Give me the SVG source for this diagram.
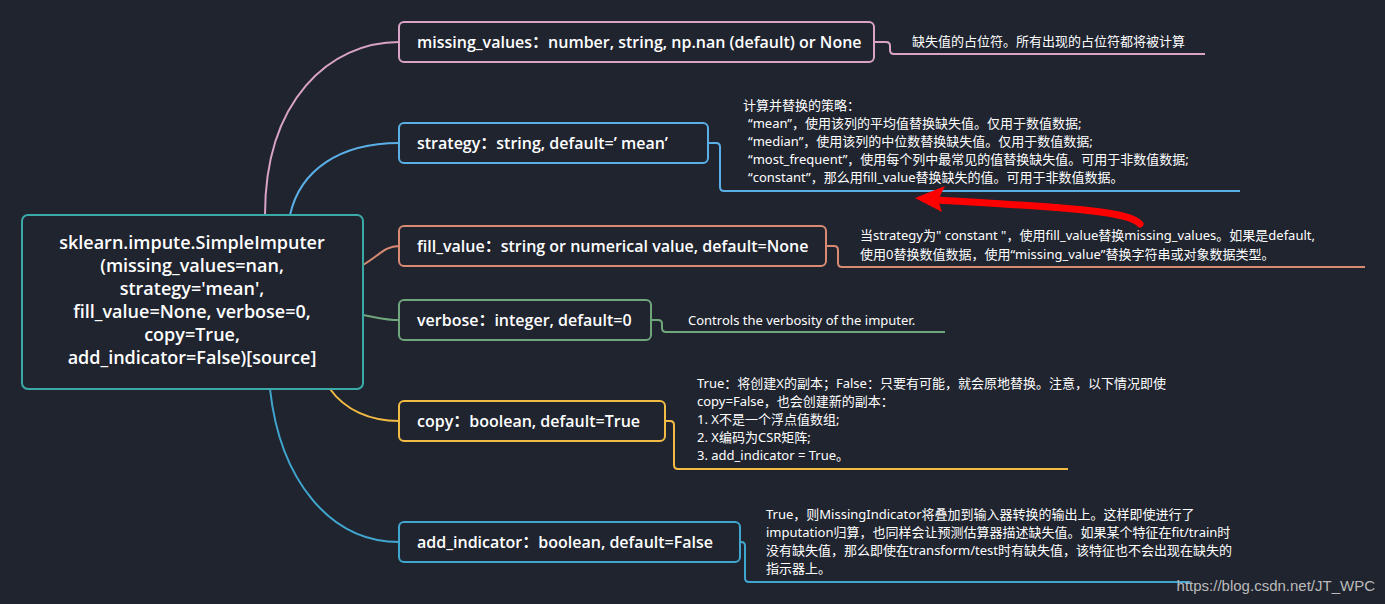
<svg xmlns="http://www.w3.org/2000/svg" width="1385" height="604" viewBox="0 0 1385 604">
<style>
.b{fill:#20242f;stroke-width:2}
.t{font-family:"Open Sans","Noto Sans CJK SC",sans-serif;fill:#fff;font-size:16px}
.n{font-family:"Noto Sans","Noto Sans CJK SC",sans-serif;fill:#fff;font-size:13px}
.c{fill:none;stroke-width:2}
</style>
<rect width="1385" height="604" fill="#20242f"/>
<g id="connectors">
<path class="c" stroke="#d9a3c6" d="M265,215 C265,100 330,42 399,42"/>
<path class="c" stroke="#5ab0e6" d="M290,215 C300,170 340,143 399,143"/>
<path class="c" stroke="#d98a73" d="M363,265 C380,255 385,246 399,246"/>
<path class="c" stroke="#6fa67c" d="M363,315 C380,318 385,320 399,320"/>
<path class="c" stroke="#f2bb44" d="M330,389 C345,410 370,421 399,421"/>
<path class="c" stroke="#40a6cf" d="M270,389 C280,480 330,542 399,542"/>
<path class="c" stroke="#d9a3c6" d="M874,42 H886 Q890,42 890,46 V50 Q890,54 894,54 H1205"/>
<path class="c" stroke="#5ab0e6" d="M708,143 H716 Q720,143 720,147 V187 Q720,191 724,191 H1240"/>
<path class="c" stroke="#d98a73" d="M826,246 H834 Q838,246 838,250 V263 Q838,267 842,267 H1365"/>
<path class="c" stroke="#6fa67c" d="M651,320 H658 Q662,320 662,324 V328 Q662,332 666,332 H945"/>
<path class="c" stroke="#f2bb44" d="M665,421 H670 Q674,421 674,425 V465 Q674,469 678,469 H1068"/>
<path class="c" stroke="#40a6cf" d="M740,542 H741 Q745,542 745,546 V578 Q745,582 749,582 H1190"/>
</g>
<g id="root"><rect class="b" stroke="#3aaaa8" x="22" y="215" width="341" height="174" rx="6"/>
<text class="t" style="font-size:18px;font-weight:600" text-anchor="middle"><tspan x="192" y="249">sklearn.impute.SimpleImputer</tspan><tspan x="192" y="272">(missing_values=nan,</tspan><tspan x="192" y="295">strategy='mean',</tspan><tspan x="192" y="318">fill_value=None, verbose=0,</tspan><tspan x="192" y="341">copy=True,</tspan><tspan x="192" y="364">add_indicator=False)[source]</tspan></text></g>
<g id="missing_values"><rect class="b" stroke="#d9a3c6" x="399" y="22" width="475" height="40" rx="5"/><text class="t" x="417" y="48" font-weight="600">missing_values：number, string, np.nan (default) or None</text>
<text class="n" x="912" y="46">缺失值的占位符。所有出现的占位符都将被计算</text></g>
<g id="strategy"><rect class="b" stroke="#5ab0e6" x="399" y="123" width="309" height="40" rx="5"/><text class="t" x="417" y="149" font-weight="600">strategy：string, default=’ mean’</text>
<text class="n"><tspan x="743" y="110">计算并替换的策略：</tspan><tspan x="748" y="128">“mean”，使用该列的平均值替换缺失值。仅用于数值数据;</tspan><tspan x="748" y="146">“median”，使用该列的中位数替换缺失值。仅用于数值数据;</tspan><tspan x="748" y="164">“most_frequent”，使用每个列中最常见的值替换缺失值。可用于非数值数据;</tspan><tspan x="748" y="182">“constant”，那么用fill_value替换缺失的值。可用于非数值数据。</tspan></text></g>
<g id="fill_value"><rect class="b" stroke="#d98a73" x="399" y="226" width="427" height="40" rx="5"/><text class="t" x="417" y="252" font-weight="600">fill_value：string or numerical value, default=None</text>
<text class="n"><tspan x="860" y="240">当strategy为" constant "，使用fill_value替换missing_values。如果是default,</tspan><tspan x="860" y="259">使用0替换数值数据，使用“missing_value”替换字符串或对象数据类型。</tspan></text></g>
<g id="verbose"><rect class="b" stroke="#6fa67c" x="399" y="300" width="252" height="40" rx="5"/><text class="t" x="417" y="326" font-weight="600">verbose：integer, default=0</text>
<text class="n" x="688" y="325">Controls the verbosity of the imputer.</text></g>
<g id="copy"><rect class="b" stroke="#f2bb44" x="399" y="401" width="266" height="40" rx="5"/><text class="t" x="417" y="427" font-weight="600">copy：boolean, default=True</text>
<text class="n"><tspan x="697" y="388">True：将创建X的副本；False：只要有可能，就会原地替换。注意，以下情况即使</tspan><tspan x="697" y="406">copy=False，也会创建新的副本：</tspan><tspan x="697" y="424">1. X不是一个浮点值数组;</tspan><tspan x="697" y="442">2. X编码为CSR矩阵;</tspan><tspan x="697" y="460">3. add_indicator = True。</tspan></text></g>
<g id="add_indicator"><rect class="b" stroke="#40a6cf" x="399" y="522" width="341" height="40" rx="5"/><text class="t" x="417" y="548" font-weight="600">add_indicator：boolean, default=False</text>
<text class="n"><tspan x="766" y="519">True，则MissingIndicator将叠加到输入器转换的输出上。这样即使进行了</tspan><tspan x="766" y="537">imputation归算，也同样会让预测估算器描述缺失值。如果某个特征在fit/train时</tspan><tspan x="766" y="555">没有缺失值，那么即使在transform/test时有缺失值，该特征也不会出现在缺失的</tspan><tspan x="766" y="573">指示器上。</tspan></text></g>
<g id="annotation">
<path d="M1140,224 C1130,212 1080,208 935,200" fill="none" stroke="#f00" stroke-width="7" stroke-linecap="round"/>
<path d="M915,198 L945,186 L938,200 L942,212 Z" fill="#f00"/>
<text x="1375" y="591" text-anchor="end" font-family="Liberation Sans,sans-serif" font-size="15" fill="#bbb">https://blog.csdn.net/JT_WPC</text>
</g>
</svg>
